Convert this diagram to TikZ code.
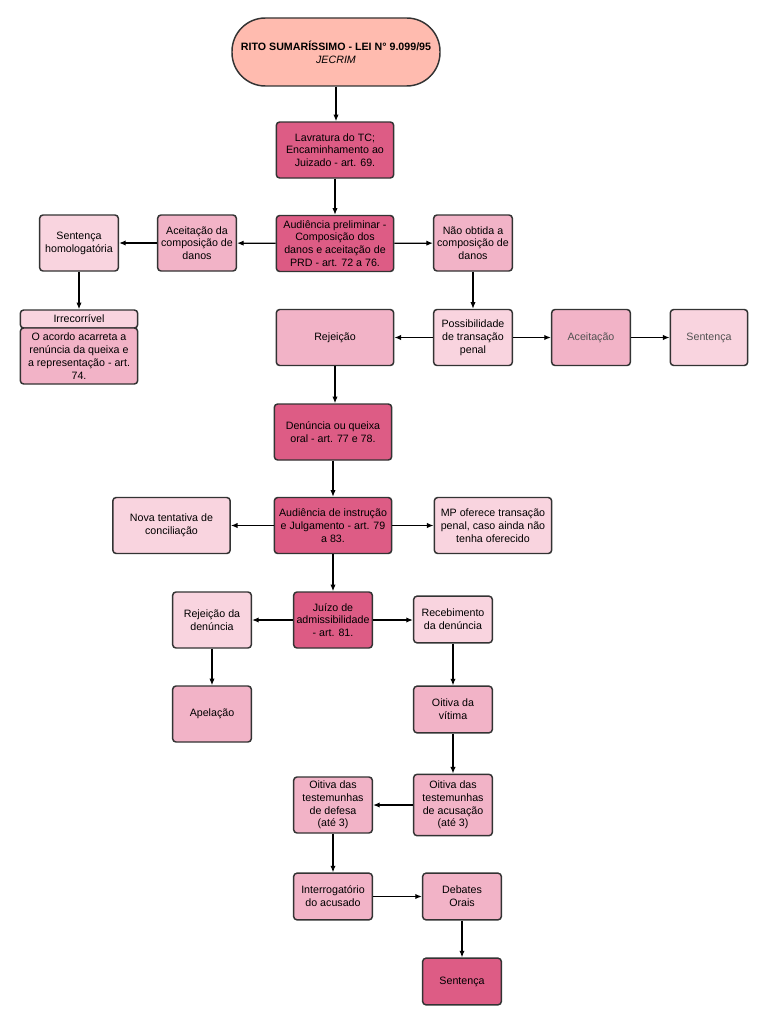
\documentclass[tikz,border=0pt]{standalone}
\usepackage{fontspec}
\setmainfont{Liberation Sans}
\usetikzlibrary{arrows.meta}
\definecolor{bordo}{RGB}{51,51,51}
\definecolor{rosaescuro}{RGB}{221,92,133}
\definecolor{rosamedio}{RGB}{242,179,199}
\definecolor{rosaclaro}{RGB}{249,212,223}
\definecolor{salmao}{RGB}{255,187,175}
\begin{document}
\begin{tikzpicture}[x=0.75pt,y=-0.75pt]
          \tikzstyle{box}=[draw=bordo,line width=1.1pt,rounded corners=2.5pt,align=center,inner sep=1pt,font=\fontsize{8}{9.6}\selectfont,text=black]
          \tikzstyle{darkbox}=[box,fill=rosaescuro]
          \tikzstyle{midbox}=[box,fill=rosamedio]
          \tikzstyle{lightbox}=[box,fill=rosaclaro]
          \tikzstyle{wide}=[minimum width=88pt,minimum height=42pt]
          \tikzstyle{narrow}=[minimum width=59pt,minimum height=42pt]
          \tikzstyle{short}=[minimum width=59pt,minimum height=35pt]
          \tikzstyle{seta}=[line width=0.9pt,-{Latex[length=5pt,width=4pt]}]
          \fill[white] (0,0) rectangle (768,1024);
          %topo
          \node (titulo) at (336,52) [box,fill=salmao,rounded corners=25pt,minimum width=156pt,minimum height=51pt] {\textbf{RITO SUMARÍSSIMO - LEI N° 9.099/95}\\\textit{JECRIM}};
          \node (lavratura) at (335,150) [darkbox,wide] {Lavratura do TC;\\Encaminhamento ao\\Juizado - art. 69.};
          \node (audprel) at (335,243.5) [darkbox,wide] {Audiência preliminar -\\Composição dos\\danos e aceitação de\\PRD - art. 72 a 76.};
          \node (aceitcomp) at (197,243) [midbox,narrow] {Aceitação da\\composição de\\danos};
          \node (senthom) at (79,243) [lightbox,narrow] {Sentença\\homologatória};
          \node (naoobtida) at (473,243) [midbox,narrow] {Não obtida a\\composição de\\danos};
          \node (irrec) at (79,319) [lightbox,minimum width=88pt,minimum height=13.5pt] {Irrecorrível};
          \node (acordo) at (79,356) [midbox,minimum width=88pt,minimum height=42pt] {O acordo acarreta a\\renúncia da queixa e\\a representação - art.\\74.};
          %transacao
          \node (rejeicao) at (335,337.5) [midbox,wide] {Rejeição};
          \node (possib) at (473,337.5) [lightbox,narrow] {Possibilidade\\de transação\\penal};
          \node (aceit) at (591,337.5) [midbox,narrow,text=bordo!85] {Aceitação};
          \node (sentenca) at (709,337.5) [lightbox,minimum width=58pt,minimum height=42pt,text=bordo!85] {Sentença};
          %instrucao
          \node (denuncia) at (333,432) [darkbox,wide] {Denúncia ou queixa\\oral - art. 77 e 78.};
          \node (audinst) at (333,525.5) [darkbox,wide] {Audiência de instrução\\e Julgamento - art. 79\\a 83.};
          \node (nova) at (171.5,525.5) [lightbox,wide] {Nova tentativa de\\conciliação};
          \node (mp) at (493,525.5) [lightbox,wide] {MP oferece transação\\penal, caso ainda não\\tenha oferecido};
          \node (juizo) at (333,620) [darkbox,narrow] {Juízo de\\admissibilidade\\- art. 81.};
          \node (rejden) at (212,620) [lightbox,narrow] {Rejeição da\\denúncia};
          \node (receb) at (453,619.5) [lightbox,short] {Recebimento\\da denúncia};
          \node (apelacao) at (212,714) [midbox,narrow] {Apelação};
          \node (vitima) at (453,709.5) [midbox,short] {Oitiva da\\vítima};
          \node (acusacao) at (453,805) [midbox,minimum width=59pt,minimum height=46pt] {Oitiva das\\testemunhas\\de acusação\\(até 3)};
          \node (defesa) at (333,805) [midbox,narrow] {Oitiva das\\testemunhas\\de defesa\\(até 3)};
          \node (interrog) at (333,896.5) [midbox,short] {Interrogatório\\do acusado};
          \node (debates) at (462,896.5) [midbox,short] {Debates\\Orais};
          \node (sentfinal) at (462,981.5) [darkbox,short] {Sentença};
          %setas
          \draw[seta] (titulo.south) -- (titulo.south |- lavratura.north);
          \draw[seta] (lavratura) -- (audprel);
          \draw[seta] (audprel) -- (aceitcomp);
          \draw[seta] (aceitcomp) -- (senthom);
          \draw[seta] (audprel) -- (naoobtida);
          \draw[seta] (senthom) -- (irrec);
          \draw[seta] (naoobtida) -- (possib);
          \draw[seta] (possib) -- (rejeicao);
          \draw[seta] (possib) -- (aceit);
          \draw[seta] (aceit) -- (sentenca);
          \draw[seta] (rejeicao.south) -- (rejeicao.south |- denuncia.north);
          \draw[seta] (denuncia) -- (audinst);
          \draw[seta] (audinst) -- (nova);
          \draw[seta] (audinst) -- (mp);
          \draw[seta] (audinst) -- (juizo);
          \draw[seta] (juizo) -- (rejden);
          \draw[seta] (juizo.east) -- (juizo.east -| receb.west);
          \draw[seta] (rejden) -- (apelacao);
          \draw[seta] (receb) -- (vitima);
          \draw[seta] (vitima) -- (acusacao);
          \draw[seta] (acusacao) -- (defesa);
          \draw[seta] (defesa) -- (interrog);
          \draw[seta] (interrog) -- (debates);
          \draw[seta] (debates) -- (sentfinal);
      \end{tikzpicture}
\end{document}
